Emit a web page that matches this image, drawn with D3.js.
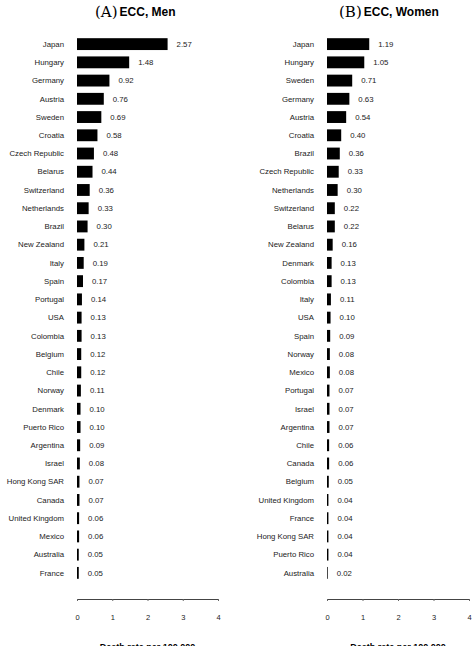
<!DOCTYPE html>
<html>
<head>
<meta charset="utf-8">
<script src="https://cdn.jsdelivr.net/npm/d3@7"></script>
<style>
  body { margin: 0; background: #fff; }
  svg { display: block; }
  text { font-family: "Liberation Sans", Arial, sans-serif; }
</style>
</head>
<body>
<div id="chart"></div>
<script>
// ECC death rates per 100,000
const menCountries = ['Japan', 'Hungary', 'Germany', 'Austria', 'Sweden', 'Croatia', 'Czech Republic',
    'Belarus', 'Switzerland', 'Netherlands', 'Brazil', 'New Zealand', 'Italy', 'Spain', 'Portugal', 'USA',
    'Colombia', 'Belgium', 'Chile', 'Norway', 'Denmark', 'Puerto Rico', 'Argentina', 'Israel',
    'Hong Kong SAR', 'Canada', 'United Kingdom', 'Mexico', 'Australia', 'France'];
const menRates = [2.57, 1.48, 0.92, 0.76, 0.69, 0.58, 0.48, 0.44, 0.36, 0.33, 0.30, 0.21, 0.19, 0.17, 0.14,
    0.13, 0.13, 0.12, 0.12, 0.11, 0.10, 0.10, 0.09, 0.08, 0.07, 0.07, 0.06, 0.06, 0.05, 0.05];

const womenCountries = ['Japan', 'Hungary', 'Sweden', 'Germany', 'Austria', 'Croatia', 'Brazil',
    'Czech Republic', 'Netherlands', 'Switzerland', 'Belarus', 'New Zealand', 'Denmark', 'Colombia', 'Italy',
    'USA', 'Spain', 'Norway', 'Mexico', 'Portugal', 'Israel', 'Argentina', 'Chile', 'Canada', 'Belgium',
    'United Kingdom', 'France', 'Hong Kong SAR', 'Puerto Rico', 'Australia'];
const womenRates = [1.19, 1.05, 0.71, 0.63, 0.54, 0.40, 0.36, 0.33, 0.30, 0.22, 0.22, 0.16, 0.13, 0.13, 0.11,
    0.10, 0.09, 0.08, 0.08, 0.07, 0.07, 0.07, 0.06, 0.06, 0.05, 0.04, 0.04, 0.04, 0.04, 0.02];

const axisTicks = [0, 1, 2, 3, 4];
const axisTitle = 'Death rate per 100,000';

const width = 474, height = 646;

const svg = d3.select('#chart')
    .append('svg')
    .attr('width', width)
    .attr('height', height);

function drawPanel(cfg) {
    const x = d3.scaleLinear().domain([0, 4]).range(cfg.xRange);
    const y = d3.scaleBand()
        .domain(cfg.countries)
        .range([35, 582])
        .paddingInner(0.35)
        .paddingOuter(0.175);

    const data = cfg.countries.map((c, i) => ({country: c, rate: cfg.rates[i]}));
    const g = svg.append('g');

    // Title
    const title = g.append('text')
        .attr('x', cfg.titleX)
        .attr('y', 16);
    title.append('tspan')
        .style('font-family', '"DejaVu Serif", serif')
        .style('font-size', '15px')
        .style('font-weight', '300')
        .attr('dy', 1)
        .text(cfg.letter);
    title.append('tspan')
        .attr('dx', 2)
        .attr('dy', -1)
        .style('font-size', '12px')
        .style('font-weight', 'bold')
        .text(cfg.title);

    // Bars
    g.selectAll('.bar')
        .data(data)
        .enter()
        .append('rect')
        .attr('class', 'bar')
        .attr('x', x(0))
        .attr('y', d => y(d.country))
        .attr('width', d => x(d.rate) - x(0))
        .attr('height', y.bandwidth())
        .attr('fill', '#000');

    // Country labels
    g.selectAll('.country')
        .data(data)
        .enter()
        .append('text')
        .attr('class', 'country')
        .attr('x', x(0) - 13)
        .attr('y', d => y(d.country) + y.bandwidth() / 2)
        .attr('dy', '0.35em')
        .attr('text-anchor', 'end')
        .style('font-size', '7.8px')
        .attr('fill', '#222')
        .text(d => d.country);

    // Value labels
    g.selectAll('.value')
        .data(data)
        .enter()
        .append('text')
        .attr('class', 'value')
        .attr('x', d => x(d.rate) + 9)
        .attr('y', d => y(d.country) + y.bandwidth() / 2)
        .attr('dy', '0.35em')
        .style('font-size', '7.8px')
        .attr('fill', '#222')
        .text(d => d.rate.toFixed(2));

    // Axis
    const axis = g.append('g')
        .attr('transform', 'translate(0,599)')
        .call(d3.axisBottom(x)
            .tickValues(axisTicks)
            .tickFormat(d3.format('d'))
            .tickSize(2)
            .tickSizeOuter(0)
            .tickPadding(14));
    axis.select('.domain').attr('stroke', '#444');
    axis.selectAll('.tick line').attr('stroke', '#666');
    axis.selectAll('.tick text')
        .style('font-family', '"Liberation Sans", Arial, sans-serif')
        .style('font-size', '7.5px')
        .attr('fill', '#222');

    g.append('text')
        .attr('x', (cfg.xRange[0] + cfg.xRange[1]) / 2)
        .attr('y', 650)
        .attr('text-anchor', 'middle')
        .style('font-size', '9px')
        .style('font-weight', 'bold')
        .text(axisTitle);
}

drawPanel({countries: menCountries, rates: menRates, xRange: [77, 218],
    titleX: 95, letter: '(A)', title: 'ECC, Men'});
drawPanel({countries: womenCountries, rates: womenRates, xRange: [327, 469],
    titleX: 339, letter: '(B)', title: 'ECC, Women'});
</script>
</body>
</html>
